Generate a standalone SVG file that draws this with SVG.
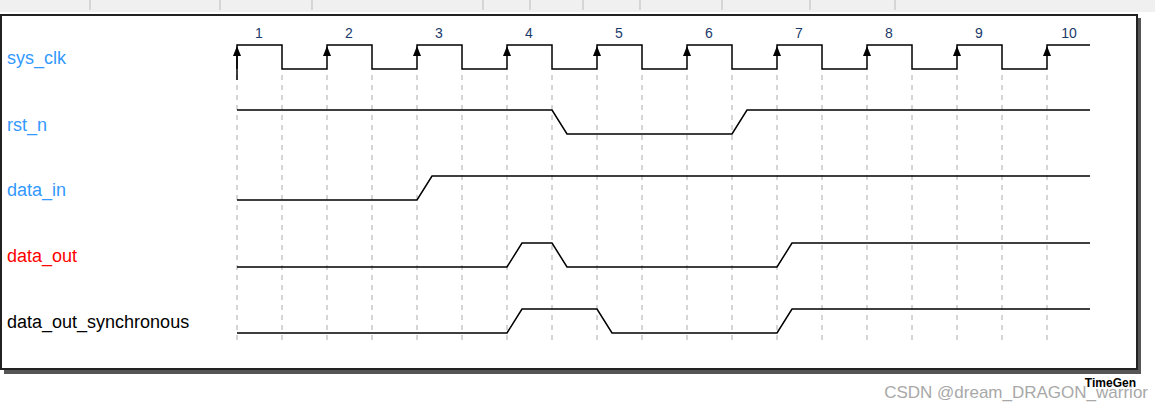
<svg xmlns="http://www.w3.org/2000/svg" width="1155" height="410" viewBox="0 0 1155 410">
<style>
.lbl{font-family:"Liberation Sans",Arial,sans-serif;font-size:18px}
.num{font-family:"Liberation Sans",Arial,sans-serif;font-size:14px;fill:#1a3a6a;text-anchor:middle}
.w{fill:none;stroke:#000;stroke-width:1.5}
.d{stroke:#aaa;stroke-width:1;stroke-dasharray:5,5}
</style>
<rect x="0" y="0" width="1155" height="12" fill="#f0f0f0"/>
<g stroke="#bbb"><line x1="90" y1="0" x2="90" y2="10"/><line x1="220" y1="0" x2="220" y2="10"/><line x1="312" y1="0" x2="312" y2="10"/><line x1="483" y1="0" x2="483" y2="10"/><line x1="530" y1="0" x2="530" y2="10"/><line x1="583" y1="0" x2="583" y2="10"/><line x1="640" y1="0" x2="640" y2="10"/><line x1="722" y1="0" x2="722" y2="10"/><line x1="810" y1="0" x2="810" y2="10"/><line x1="895" y1="0" x2="895" y2="10"/></g>
<rect x="4" y="18" width="1137" height="356" fill="#555"/>
<rect x="1" y="15" width="1136" height="354" fill="#fff" stroke="#222" stroke-width="2"/>
<g id="grid">
<g class="d">
<path d="M237 75V345M282 75V345M327 75V345M372 75V345M417 75V345M462 75V345M507 75V345M552 75V345M597 75V345M642 75V345M687 75V345M732 75V345M777 75V345M822 75V345M867 75V345M912 75V345M957 75V345M1002 75V345M1047 75V345"/>
</g></g>
<g id="sys_clk">
<text class="lbl" x="7" y="64" fill="#3399ff">sys_clk</text>
<path class="w" d="M237 69V45H282V69H327V45H372V69H417V45H462V69H507V45H552V69H597V45H642V69H687V45H732V69H777V45H822V69H867V45H912V69H957V45H1002V69H1047V45H1090"/>
<g fill="#000"><path d="M233 56L237 46L241 56Z"/><path d="M323 56L327 46L331 56Z"/><path d="M413 56L417 46L421 56Z"/><path d="M503 56L507 46L511 56Z"/><path d="M593 56L597 46L601 56Z"/><path d="M683 56L687 46L691 56Z"/><path d="M773 56L777 46L781 56Z"/><path d="M863 56L867 46L871 56Z"/><path d="M953 56L957 46L961 56Z"/><path d="M1043 56L1047 46L1051 56Z"/></g>
<line x1="237" y1="56" x2="237" y2="80" stroke="#000" stroke-width="1.5"/>
<g class="num"><text x="259" y="38">1</text><text x="349" y="38">2</text><text x="439" y="38">3</text><text x="529" y="38">4</text><text x="619" y="38">5</text><text x="709" y="38">6</text><text x="799" y="38">7</text><text x="889" y="38">8</text><text x="979" y="38">9</text><text x="1069" y="38">10</text></g>
</g>
<g id="rst_n">
<text class="lbl" x="7" y="131" fill="#3399ff">rst_n</text>
<path class="w" d="M237 110H552L567 134H732L747 110H1090"/>
</g>
<g id="data_in">
<text class="lbl" x="7" y="196" fill="#3399ff">data_in</text>
<path class="w" d="M237 200H417L432 176H1090"/>
</g>
<g id="data_out">
<text class="lbl" x="7" y="262" fill="#ff0000">data_out</text>
<path class="w" d="M237 267H507L522 243H552L567 267H777L792 243H1090"/>
</g>
<g id="data_out_synchronous">
<text class="lbl" x="7" y="328" fill="#000">data_out_synchronous</text>
<path class="w" d="M237 333H507L522 309H597L612 333H777L792 309H1090"/>
</g>
<text x="1136" y="387" font-family="Liberation Sans,Arial,sans-serif" font-size="12" font-weight="bold" text-anchor="end" fill="#000">TimeGen</text>
<text x="1148" y="398" font-family="Liberation Sans,Arial,sans-serif" font-size="17" text-anchor="end" fill="#999" opacity="0.85">CSDN @dream_DRAGON_warrior</text>
</svg>
